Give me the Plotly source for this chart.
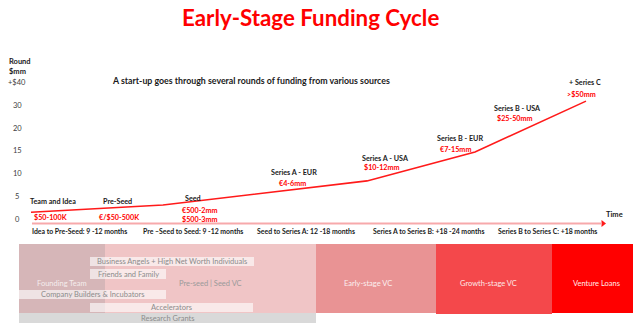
import numpy as np
import plotly.graph_objects as go

# ---- data -------------------------------------------------------------
# y scale of the chart: tick values ($mm) drawn at evenly spaced positions
tick_values = [0, 5, 10, 15, 20, 30, 40]
tick_labels = ["0", "5", "10", "15", "20", "30", "+$40"]

# funding curve: timeline position of each round and round size in $mm
curve_time = [31, 163, 367, 475, 586]
curve_size_mm = [1.5, 3.1, 8.4, 14.8, 32.0]

# funding rounds and typical ticket sizes
round_names = ["Team and Idea", "Pre-Seed", "Seed", "Series A - EUR",
               "Series A - USA", "Series B - EUR", "Series B - USA", "+ Series C"]
round_amounts = ["$50-100K", "€/$50-500K", "€500-2mm", "€4-6mm",
                 "$10-12mm", "€7-15mm", "$25-50mm", ">$50mm"]
seed_second_amount = "$500-3mm"

# time between rounds
gap_labels = ["Idea to Pre-Seed: 9 -12 months", "Pre –Seed to Seed: 9 -12 months",
              "Seed to Series A: 12 -18 months", "Series A to Series B: +18 -24 months",
              "Series B to Series C: +18 months"]

# funding sources and the stretch of the timeline they cover
stage_blocks = ["Founding Team", "Pre-seed | Seed VC", "Early-stage VC",
                "Growth-stage VC", "Venture Loans"]
stage_block_span = [(19, 105), (105, 316), (316, 436), (436, 552), (552, 633)]
source_bars = ["Business Angels + High Net Worth Individuals", "Friends and Family",
               "Company Builders & Incubators", "Accelerators", "Research Grants"]
source_bar_span = [(90, 254), (90, 166), (19, 166), (90, 253), (19, 316)]

# ---- layout helpers ---------------------------------------------------
W, H = 640, 330
Y0_PX, UNIT_PX = 219.0, 22.67          # pixel row of tick 0, pixels per tick step
FONT = "Lato"


def scale(v):
    """Map $mm onto the evenly spaced tick positions."""
    return np.interp(v, tick_values, np.arange(len(tick_values)))


def ypx(px):
    """Pixel row -> y axis units."""
    return (Y0_PX - px) / UNIT_PX


def paper(px):
    return 1 - px / H


fig = go.Figure()

# funding curve
fig.add_trace(go.Scatter(
    x=curve_time, y=scale(np.array(curve_size_mm)), mode="lines",
    line=dict(color="#ff1a1a", width=1.6), hoverinfo="skip", showlegend=False))

# time axis with arrow head
fig.add_shape(type="line", xref="x", yref="y", x0=32, x1=602,
              y0=ypx(223.5), y1=ypx(223.5), line=dict(color="#f7a9ab", width=2))
fig.add_trace(go.Scatter(
    x=[603], y=[ypx(223.5)], mode="markers",
    marker=dict(symbol="triangle-right", size=6, color="#ff1a1a"),
    hoverinfo="skip", showlegend=False))

ann = []


def text(x, y, s, size=8, color="#1a1a1a", bold=False, xanchor="center"):
    ann.append(dict(x=x, y=paper(y), xref="x", yref="paper", text=f"<b>{s}</b>" if bold else s,
                    showarrow=False, xanchor=xanchor, yanchor="middle",
                    font=dict(family=FONT, size=size, color=color)))


# title and subtitle
text(310, 17, "Early-Stage Funding Cycle", size=22.3, color="#ff0000", bold=True)
text(251, 80, "A start-up goes through several rounds of funding from various sources",
     size=8.8, bold=True)

# y axis caption and tick labels
text(7, 62, "Round", size=7.5, bold=True, xanchor="left")
text(7, 72, "$mm", size=7.5, bold=True, xanchor="left")
for i, lab in enumerate(tick_labels):
    text(17, Y0_PX - i * UNIT_PX, lab, size=7.5, color="#404040")

# round names and amounts
name_pos = [(53, 201), (117, 201), (193, 198), (294, 172), (385, 158),
            (460, 138), (517, 108), (585, 82)]
amount_pos = [(50, 217), (119, 217), (200, 210), (292, 183), (382, 168),
              (455, 149), (515, 118), (581, 94)]
for name, amount, (nx, ny), (axp, ayp) in zip(round_names, round_amounts, name_pos, amount_pos):
    text(nx, ny, name, size=7.2, bold=True)
    text(axp, ayp, amount, size=7.2, color="#ff0000", bold=True)
text(200, 219.5, seed_second_amount, size=7.2, color="#ff0000", bold=True)
text(614, 214, "Time", size=7.5, bold=True)

# time between rounds
gap_x = [79, 193, 306, 428, 547]
for gx, lab in zip(gap_x, gap_labels):
    text(gx, 231, lab, size=6.9, bold=True)

# funding-source blocks
block_fill = ["#d6b6b8", "#f0c5c6", "#e99394", "#f4484b", "#ff0000"]
block_rows = [(244, 313), (244, 313), (244, 313), (244, 314), (244, 313)]
block_text_color = ["#f5eded", "#9a9a9a", "#fcf0f0", "#fde8e8", "#ffeaea"]
block_text_x = [62, 210, 368, 488, 596]
for (x0, x1), (y0, y1), fill in zip(stage_block_span, block_rows, block_fill):
    fig.add_shape(type="rect", xref="x", yref="paper", x0=x0, x1=x1,
                  y0=paper(y1), y1=paper(y0), fillcolor=fill, line=dict(width=0), layer="below")
for name, tx, col in zip(stage_blocks, block_text_x, block_text_color):
    text(tx, 283, name, size=7.5, color=col)

bar_rows = [(257, 266), (269, 279), (290, 299), (303, 312), (313, 323)]
bar_fill = ["rgba(255,255,255,0.62)"] * 4 + ["#d9d9d9"]
for (x0, x1), (y0, y1), fill, name in zip(source_bar_span, bar_rows, bar_fill, source_bars):
    fig.add_shape(type="rect", xref="x", yref="paper", x0=x0, x1=x1,
                  y0=paper(y1), y1=paper(y0), fillcolor=fill, line=dict(width=0), layer="below")
    text((x0 + x1) / 2, (y0 + y1) / 2, name, size=7.5, color="#8c8c8c")

fig.update_layout(
    width=W, height=H, margin=dict(l=0, r=0, t=0, b=0),
    paper_bgcolor="white", plot_bgcolor="rgba(0,0,0,0)",
    xaxis=dict(range=[0, W], visible=False, fixedrange=True),
    yaxis=dict(range=[ypx(H), ypx(0)], visible=False, fixedrange=True),
    annotations=ann, showlegend=False,
)

fig.write_html("out.html")
